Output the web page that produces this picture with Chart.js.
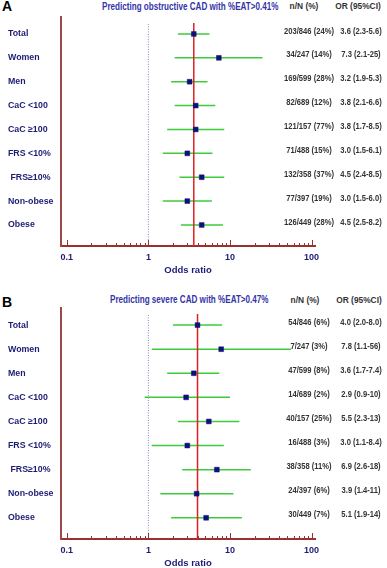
<!DOCTYPE html>
<html>
<head>
<meta charset="utf-8">
<script src="https://cdn.jsdelivr.net/npm/chart.js@4.4.0/dist/chart.umd.min.js"></script>
<style>
  body { margin: 0; background: #fff; }
  #wrap { position: relative; width: 387px; height: 568px; overflow: hidden;
          font-family: 'Liberation Sans', Arial, sans-serif; font-weight: bold; }
  .panel { position: absolute; left: 0; width: 387px; }
  .letter { position: absolute; font: bold 14px 'Liberation Sans', Arial, sans-serif; color: #000; line-height: 14px; }
  .title { position: absolute; color: #3434a8; font-size: 10px; line-height: 12px; white-space: nowrap;
           transform: scaleX(0.81); transform-origin: left center; }
  .head { position: absolute; color: #333; font-size: 9.5px; line-height: 12px; white-space: nowrap;
          transform: translateX(-50%) scaleX(0.88); }
</style>
</head>
<body>
<div id="wrap">
  <div class="letter" style="left:2px;top:-1px;">A</div>
  <div class="title" style="left:102px;top:1px;">Predicting obstructive CAD with %EAT&gt;0.41%</div>
  <div class="head" style="left:304px;top:0px;">n/N (%)</div>
  <div class="head" style="left:358px;top:0px;">OR (95%CI)</div>
  <div class="panel" style="top:0;height:280px;"><canvas id="chartA" width="387" height="280"></canvas></div>

  <div class="letter" style="left:2px;top:295px;">B</div>
  <div class="title" style="left:110px;top:294px;">Predicting severe CAD with %EAT&gt;0.47%</div>
  <div class="head" style="left:305px;top:294px;">n/N (%)</div>
  <div class="head" style="left:359px;top:294px;">OR (95%CI)</div>
  <div class="panel" style="top:280px;height:290px;"><canvas id="chartB" width="387" height="290"></canvas></div>
</div>
<script>
// 行标签
const rowLabels = ['Total', 'Women', 'Men', 'CaC <100', 'CaC \u2265100', 'FRS <10%', ' FRS\u226510%', 'Non-obese', 'Obese'];

// A: obstructive CAD
const orA = [3.6, 7.3, 3.2, 3.8, 3.8, 3.0, 4.5, 3.0, 4.5];
const loA = [2.3, 2.1, 1.9, 2.1, 1.7, 1.5, 2.4, 1.5, 2.5];
const hiA = [5.6, 25, 5.3, 6.6, 8.5, 6.1, 8.5, 6.0, 8.2];
const countsA = ['203/846 (24%)', '34/247 (14%)', '169/599 (28%)', '82/689 (12%)', '121/157 (77%)',
                 '71/488 (15%)', '132/358 (37%)', '77/397 (19%)', '126/449 (28%)'];

// B: severe CAD
const orB = [4.0, 7.8, 3.6, 2.9, 5.5, 3.0, 6.9, 3.9, 5.1];
const loB = [2.0, 1.1, 1.7, 0.9, 2.3, 1.1, 2.6, 1.4, 1.9];
const hiB = [8.0, 56, 7.4, 10, 13, 8.4, 18, 11, 14];
const countsB = ['54/846 (6%)', '7/247 (3%)', '47/599 (8%)', '14/689 (2%)', '40/157 (25%)',
                 '16/488 (3%)', '38/358 (11%)', '24/397 (6%)', '30/449 (7%)'];

// x轴刻度
const xTickVals = [0.1, 1, 10, 100];
const minorTickVals = [0.1, 0.2, 0.3, 0.4, 0.5, 0.6, 0.7, 0.8, 0.9,
                       1, 2, 3, 4, 5, 6, 7, 8, 9,
                       10, 20, 30, 40, 50, 60, 70, 80, 90, 100];

const FONT = "'Liberation Sans', Arial, sans-serif";
const navy = '#1c1c74';
const axisColor = '#9a3030';
const green = '#3ccc3c';

function fmt(v) {
    return v >= 10 ? String(Math.round(v)) : v.toFixed(1);
}

// 压缩字体宽度
function narrowText(ctx, t, x, y, k) {
    ctx.fillText(t, x, y, ctx.measureText(t).width * k);
}

// 右侧文字列 + 刻度线
const columnsPlugin = {
    id: 'columns',
    afterDraw(chart, args, opts) {
        const ctx = chart.ctx;
        const xs = chart.scales.x;
        const ys = chart.scales.y;
        ctx.save();
        ctx.strokeStyle = axisColor;
        ctx.lineWidth = 1;
        minorTickVals.forEach(v => {
            const px = Math.round(xs.getPixelForValue(v)) + 0.5;
            const len = xTickVals.includes(v) ? 6 : 3;
            ctx.beginPath();
            ctx.moveTo(px, xs.top);
            ctx.lineTo(px, xs.top - len);
            ctx.stroke();
        });
        ctx.font = 'bold 9.5px ' + FONT;
        ctx.fillStyle = '#333';
        ctx.textAlign = 'center';
        ctx.textBaseline = 'middle';
        opts.counts.forEach((t, i) => {
            const py = ys.getPixelForValue(i) - 3;
            narrowText(ctx, t, 309, py, 0.8);
            narrowText(ctx, `${opts.or[i].toFixed(1)} (${opts.lo[i].toFixed(1)}-${fmt(opts.hi[i])})`, 361, py, 0.8);
        });
        ctx.restore();
    }
};

function buildPanel(id, or, lo, hi, counts, topPad, bottomPad) {
    const ctx = document.getElementById(id);
    const datasets = [];
    // 方块
    datasets.push({
        data: or.map((v, i) => ({ x: v, y: i })),
        pointStyle: 'rect',
        pointRadius: 3.4,
        backgroundColor: '#10107a',
        borderColor: '#10107a',
        borderWidth: 0.5,
        showLine: false
    });
    // 总体OR参考线
    datasets.push({
        data: [{ x: or[0], y: -0.46 }, { x: or[0], y: 8.88 }],
        showLine: true,
        borderColor: '#e02020',
        borderWidth: 1.5,
        pointRadius: 0
    });
    // OR=1
    datasets.push({
        data: [{ x: 1, y: -0.42 }, { x: 1, y: 8.88 }],
        showLine: true,
        borderColor: '#8888bb',
        borderWidth: 1,
        borderDash: [1, 1.5],
        pointRadius: 0
    });
    // 置信区间
    lo.forEach((v, i) => {
        datasets.push({
            data: [{ x: v, y: i }, { x: hi[i], y: i }],
            showLine: true,
            borderColor: green,
            borderWidth: 1.5,
            pointRadius: 0
        });
    });

    return new Chart(ctx, {
        type: 'scatter',
        data: { datasets: datasets },
        options: {
            responsive: false,
            animation: false,
            layout: { padding: { top: topPad, left: 8, right: 72, bottom: bottomPad } },
            plugins: {
                legend: { display: false },
                tooltip: { enabled: false },
                columns: { counts: counts, or: or, lo: lo, hi: hi }
            },
            scales: {
                x: {
                    type: 'logarithmic',
                    min: 0.085,
                    max: 110,
                    afterBuildTicks: s => { s.ticks = xTickVals.map(v => ({ value: v })); },
                    afterFit: s => { s.height = 30; },
                    grid: { display: false, drawTicks: false },
                    border: { color: axisColor, width: 2 },
                    ticks: {
                        padding: 6, color: navy, autoSkip: false, maxRotation: 0,
                        font: { family: FONT, size: 9, weight: 'bold' },
                        callback: v => String(v)
                    },
                    title: {
                        display: true, text: 'Odds ratio', color: navy, padding: 0,
                        font: { family: FONT, size: 9.5, weight: 'bold' }
                    }
                },
                y: {
                    type: 'linear',
                    reverse: true,
                    min: -0.71,
                    max: 8.88,
                    afterBuildTicks: s => { s.ticks = rowLabels.map((_, i) => ({ value: i })); },
                    afterFit: s => { s.width = 53; },
                    grid: { display: false, drawTicks: false },
                    border: { color: '#a04848', width: 2 },
                    ticks: {
                        crossAlign: 'far', color: navy, autoSkip: false,
                        font: { family: FONT, size: 8.8, weight: 'bold' },
                        callback: v => rowLabels[v]
                    }
                }
            }
        },
        plugins: [columnsPlugin]
    });
}

buildPanel('chartA', orA, loA, hiA, countsA, 17, 4);
buildPanel('chartB', orB, loB, hiB, countsB, 28, 1);
</script>
</body>
</html>
